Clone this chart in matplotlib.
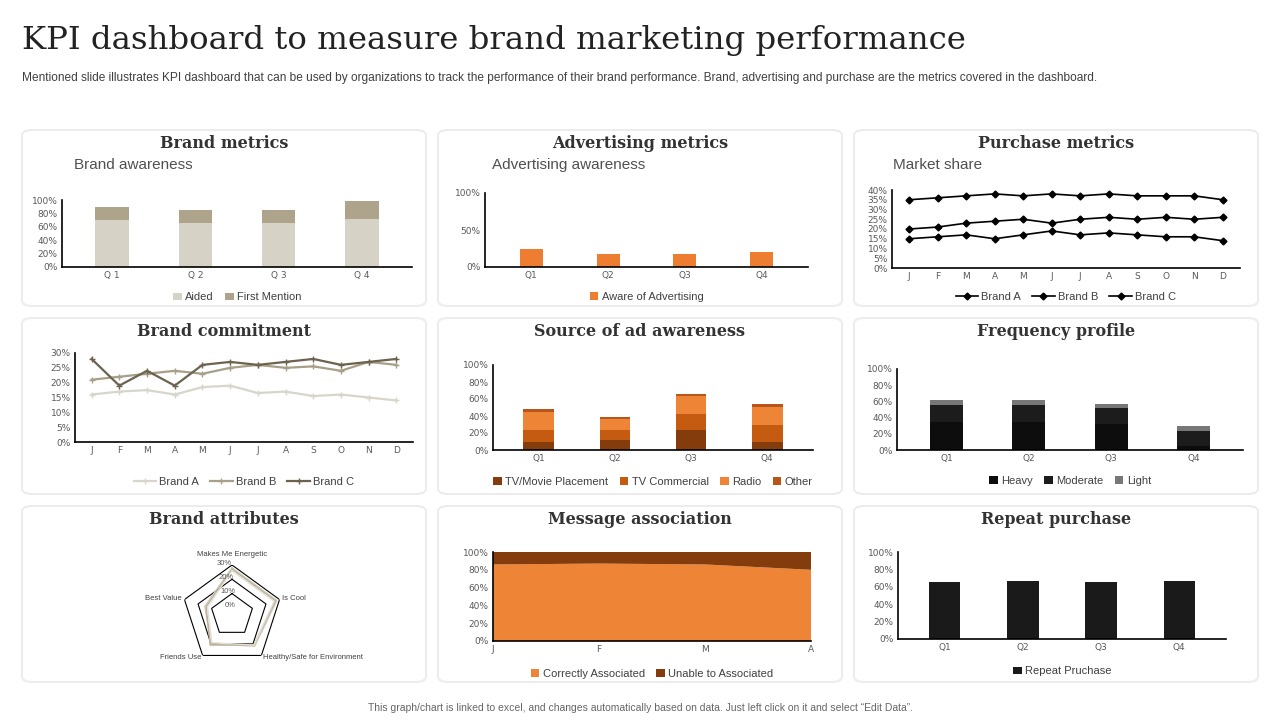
import numpy as np
import matplotlib.pyplot as plt
from matplotlib.patches import FancyBboxPatch
from matplotlib.ticker import PercentFormatter

# data
quarters = ["Q1", "Q2", "Q3", "Q4"]
quarters_sp = ["Q 1", "Q 2", "Q 3", "Q 4"]
months = ["J", "F", "M", "A", "M", "J", "J", "A", "S", "O", "N", "D"]

aided = [70, 65, 65, 72]
first_mention = [20, 20, 20, 26]

ad_awareness = [25, 18, 17, 20]

share_a = [15, 16, 17, 15, 17, 19, 17, 18, 17, 16, 16, 14]
share_b = [20, 21, 23, 24, 25, 23, 25, 26, 25, 26, 25, 26]
share_c = [35, 36, 37, 38, 37, 38, 37, 38, 37, 37, 37, 35]

commit_a = [16, 17, 17.5, 16, 18.5, 19, 16.5, 17, 15.5, 16, 15, 14]
commit_b = [21, 22, 23, 24, 23, 25, 26, 25, 25.5, 24, 27, 26]
commit_c = [28, 19, 24, 19, 26, 27, 26, 27, 28, 26, 27, 28]

src_movie = [10, 12, 23, 10]
src_tv = [13, 12, 19, 20]
src_radio = [22, 12, 21, 21]
src_other = [3, 3, 3, 3]

freq_heavy = [35, 35, 32, 5]
freq_moderate = [20, 20, 20, 19]
freq_light = [7, 7, 5, 6]

attr_labels = ["Makes Me Energetic", "Is Cool", "Healthy/Safe for Environment", "Friends Use", "Best Value"]
attr_a = [28, 28, 22, 20, 15]
attr_b = [27, 27, 21, 21, 14]
attr_c = [26, 26, 21, 19, 13]

msg_months = ["J", "F", "M", "A"]
msg_correct = [86, 87, 86, 80]
msg_unable = [14, 13, 14, 20]

repeat = [65, 67, 65, 67]

W, H = 1280, 720
fig = plt.figure(figsize=(12.8, 7.2), dpi=100)
fig.patch.set_facecolor("white")
SERIF = "DejaVu Serif"
SANS = "Liberation Sans"
TICK = "#595959"


def px_axes(x0, y0, x1, y1, **kw):
    a = fig.add_axes([x0 / W, 1 - y1 / H, (x1 - x0) / W, (y1 - y0) / H], **kw)
    a.set_zorder(2)
    a.patch.set_alpha(0)
    return a


def style(ax, ymax, step, xt=None):
    ax.set_ylim(0, ymax)
    ax.set_yticks(np.arange(0, ymax + 0.1, step))
    ax.yaxis.set_major_formatter(PercentFormatter(decimals=0))
    for s in ["top", "right"]:
        ax.spines[s].set_visible(False)
    ax.spines["left"].set_linewidth(1.2)
    ax.spines["bottom"].set_linewidth(1.2)
    ax.tick_params(length=0, labelsize=6.5, labelcolor=TICK, pad=3)
    if xt is not None:
        ax.set_xticks(range(len(xt)))
        ax.set_xticklabels(xt)


def legend(ax, y, ncol, hl=0.8):
    ax.legend(loc="upper center", bbox_to_anchor=(0.5, y), ncol=ncol, frameon=False,
              prop={"family": SANS, "size": 8}, labelcolor="#404040",
              handlelength=hl, handletextpad=0.3, columnspacing=1.0)


fig.text(22 / W, 1 - 40 / H, "KPI dashboard to measure brand marketing performance",
         family=SERIF, fontsize=23.3, color="#222222", va="center")
fig.text(22 / W, 1 - 78 / H,
         "Mentioned slide illustrates KPI dashboard that can be used by organizations to track the performance of their brand performance. "
         "Brand, advertising and purchase are the metrics covered in the dashboard.",
         family=SANS, fontsize=8.6, color="#404040", va="center")
fig.text(0.5, 1 - 708 / H,
         "This graph/chart is linked to excel, and changes automatically based on data. Just left click on it and select \u201cEdit Data\u201d.",
         family=SANS, fontsize=7.5, color="#666666", ha="center", va="center")

cols = [(22, 426), (438, 842), (854, 1258)]
rows = [(130, 306), (318, 494), (506, 682)]
titles = [["Brand metrics", "Advertising metrics", "Purchase metrics"],
          ["Brand commitment", "Source of ad awareness", "Frequency profile"],
          ["Brand attributes", "Message association", "Repeat purchase"]]
for r, (y0, y1) in enumerate(rows):
    for c, (x0, x1) in enumerate(cols):
        fig.patches.append(FancyBboxPatch((x0 / W, 1 - y1 / H), (x1 - x0) / W, (y1 - y0) / H,
                                          boxstyle="round,pad=0,rounding_size=0.008",
                                          transform=fig.transFigure, facecolor="white",
                                          edgecolor="#ececec", linewidth=1.5, zorder=-1))
        fig.text((x0 + x1) / 2 / W, 1 - (y0 + 14) / H, titles[r][c], family=SERIF,
                 fontsize=11.5, weight="bold", color="#333333", ha="center", va="center")

for x, y, t in [(74, 165, "Brand awareness"), (492, 165, "Advertising awareness"), (893, 165, "Market share")]:
    fig.text(x / W, 1 - y / H, t, family=SANS, fontsize=11, color="#505050", va="center")

# Brand awareness
ax = px_axes(62, 200, 412, 267)
x = np.arange(4)
ax.bar(x, aided, 0.4, color="#d6d2c6", label="Aided")
ax.bar(x, first_mention, 0.4, bottom=aided, color="#aea48c", label="First Mention")
style(ax, 100, 20, quarters_sp)
ax.set_xlim(-0.6, 3.6)
legend(ax, -0.23, 2)

# Advertising awareness
ax = px_axes(485, 193, 808, 267)
ax.bar(x, ad_awareness, 0.3, color="#ed7d31", label="Aware of Advertising")
style(ax, 100, 50, quarters)
ax.set_xlim(-0.6, 3.6)
legend(ax, -0.2, 1)

# Market share
ax = px_axes(892, 190, 1240, 268)
m = np.arange(12)
for vals, lab in [(share_a, "Brand A"), (share_b, "Brand B"), (share_c, "Brand C")]:
    ax.plot(m, vals, color="black", marker="D", markersize=3.5, linewidth=1.2, label=lab)
style(ax, 40, 5, months)
ax.set_xlim(-0.6, 11.6)
legend(ax, -0.18, 3, hl=2.0)

# Brand commitment
ax = px_axes(75, 353, 413, 442)
for vals, lab, col in [(commit_a, "Brand A", "#d8d5cb"), (commit_b, "Brand B", "#a89f88"),
                       (commit_c, "Brand C", "#6d6250")]:
    ax.plot(m, vals, color=col, marker="+", markersize=4, linewidth=1.6, label=lab)
style(ax, 30, 5, months)
ax.set_xlim(-0.6, 11.6)
legend(ax, -0.28, 3, hl=2.0)

# Source of ad awareness
ax = px_axes(493, 365, 813, 450)
b1 = np.array(src_movie)
b2 = b1 + np.array(src_tv)
b3 = b2 + np.array(src_radio)
ax.bar(x, src_movie, 0.4, color="#843c0c", label="TV/Movie Placement")
ax.bar(x, src_tv, 0.4, bottom=b1, color="#c55a11", label="TV Commercial")
ax.bar(x, src_radio, 0.4, bottom=b2, color="#ed8436", label="Radio")
ax.bar(x, src_other, 0.4, bottom=b3, color="#b8551a", label="Other")
style(ax, 100, 20, quarters)
ax.set_xlim(-0.6, 3.6)
legend(ax, -0.2, 4)

# Frequency profile
ax = px_axes(897, 369, 1243, 450)
f1 = np.array(freq_heavy)
f2 = f1 + np.array(freq_moderate)
ax.bar(x, freq_heavy, 0.4, color="#0d0d0d", label="Heavy")
ax.bar(x, freq_moderate, 0.4, bottom=f1, color="#1c1c1c", label="Moderate")
ax.bar(x, freq_light, 0.4, bottom=f2, color="#777777", label="Light")
style(ax, 100, 20, quarters)
ax.set_xlim(-0.6, 3.6)
legend(ax, -0.2, 3)

# Brand attributes radar
ax = px_axes(232 - 50, 615 - 50, 232 + 50, 615 + 50, projection="polar")
ang = np.linspace(0, 2 * np.pi, 5, endpoint=False)
ax.set_theta_offset(np.pi / 2)
ax.set_theta_direction(-1)
ax.set_ylim(-5, 30)
ax.grid(False)
ax.spines["polar"].set_visible(False)
ax.set_yticks([])
ax.set_xticks([])
closed = np.append(ang, ang[0])
for r in [10, 20, 30]:
    ax.plot(closed, [r] * 6, color="black", linewidth=0.8)
for r, lab in zip([0, 10, 20, 30], ["0%", "10%", "20%", "30%"]):
    ax.text(-0.15, r + 1.5, lab, fontsize=5.5, color=TICK, family=SANS, ha="center", va="center")
for vals, col in [(attr_a, "#cfcab9"), (attr_b, "#b8b09a"), (attr_c, "#e3e0d6")]:
    ax.plot(closed, vals + vals[:1], color=col, linewidth=1.0)
aligns = ["center", "left", "left", "right", "right"]
offs = [37, 32, 32, 32, 32]
for a, lab, ha, o in zip(ang, attr_labels, aligns, offs):
    ax.text(a, o, lab, fontsize=5.5, color="#404040", family=SANS, ha=ha, va="center")

# Message association
ax = px_axes(493, 552, 811, 641)
mx = np.arange(4)
ax.stackplot(mx, msg_correct, msg_unable, colors=["#ed8436", "#843c0c"],
             labels=["Correctly Associated", "Unable to Associated"])
style(ax, 100, 20, msg_months)
ax.set_xlim(0, 3)
legend(ax, -0.2, 2)

# Repeat purchase
ax = px_axes(898, 552, 1226, 639)
ax.bar(x, repeat, 0.4, color="#1a1a1a", label="Repeat Pruchase")
style(ax, 100, 20, quarters)
ax.set_xlim(-0.6, 3.6)
legend(ax, -0.2, 1)

fig.savefig("out.png", dpi=100)
